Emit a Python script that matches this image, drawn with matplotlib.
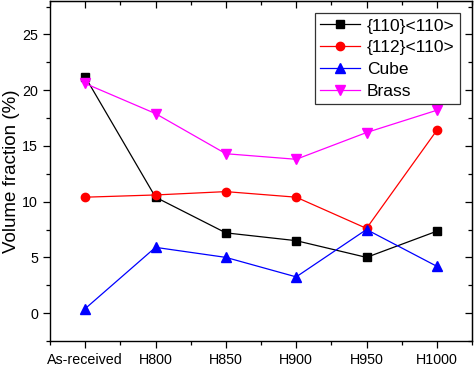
import matplotlib
matplotlib.use("Agg")
import matplotlib.pyplot as plt
from matplotlib.ticker import MultipleLocator

plt.rcParams['font.family'] = ['Liberation Sans', 'DejaVu Sans']

categories = ["As-received", "H800", "H850", "H900", "H950", "H1000"]
s110 = [21.2, 10.4, 7.2, 6.5, 5.0, 7.35]
s112 = [10.4, 10.6, 10.9, 10.4, 7.6, 16.4]
cube = [0.4, 5.9, 5.0, 3.25, 7.5, 4.2]
brass = [20.6, 17.9, 14.3, 13.8, 16.2, 18.2]

fig = plt.figure(figsize=(4.74, 3.69), dpi=100)
ax = fig.add_axes([0.1055, 0.0759, 0.8903, 0.9214])
x = list(range(len(categories)))

ax.plot(x, s110, '-s', color='black', lw=0.9, ms=5.5, label='{110}<110>')
ax.plot(x, s112, '-o', color='red', lw=0.9, ms=6, label='{112}<110>')
ax.plot(x, cube, '-^', color='blue', lw=0.9, ms=7, label='Cube')
ax.plot(x, brass, '-v', color='magenta', lw=0.9, ms=7, label='Brass')

ax.set_xlim(-0.5, 5.5)
ax.set_ylim(-2.5, 28)
ax.set_xticks(x)
ax.set_xticklabels(categories, fontsize=10.3)
ax.xaxis.set_minor_locator(MultipleLocator(0.5))
ax.yaxis.set_major_locator(MultipleLocator(5))
ax.yaxis.set_minor_locator(MultipleLocator(2.5))
ax.set_yticks([0, 5, 10, 15, 20, 25])
ax.tick_params(axis='y', labelsize=10.3)
ax.tick_params(which='major', direction='out', length=5, width=0.9)
ax.tick_params(which='minor', direction='out', length=3, width=0.9)
for sp in ax.spines.values():
    sp.set_linewidth(1.0)

# mirrored inward ticks on top/right
axr = ax.secondary_yaxis('right')
axr.yaxis.set_major_locator(MultipleLocator(5))
axr.yaxis.set_minor_locator(MultipleLocator(2.5))
axr.tick_params(which='major', direction='in', length=5, width=0.9, labelright=False)
axr.tick_params(which='minor', direction='in', length=3, width=0.9)
axt = ax.secondary_xaxis('top')
axt.set_xticks(x)
axt.xaxis.set_minor_locator(MultipleLocator(0.5))
axt.tick_params(which='major', direction='in', length=5, width=0.9, labeltop=False)
axt.tick_params(which='minor', direction='in', length=3, width=0.9)

ax.set_ylabel('Volume fraction (%)', fontsize=13.5, labelpad=2)

leg = ax.legend(loc='upper right', fontsize=12.5, frameon=True, fancybox=False,
                edgecolor='black', handlelength=2.3, borderpad=0.3,
                labelspacing=0.38, handletextpad=0.4, borderaxespad=0.7)
leg.get_frame().set_linewidth(0.9)

fig.savefig('out.png', dpi=100)
